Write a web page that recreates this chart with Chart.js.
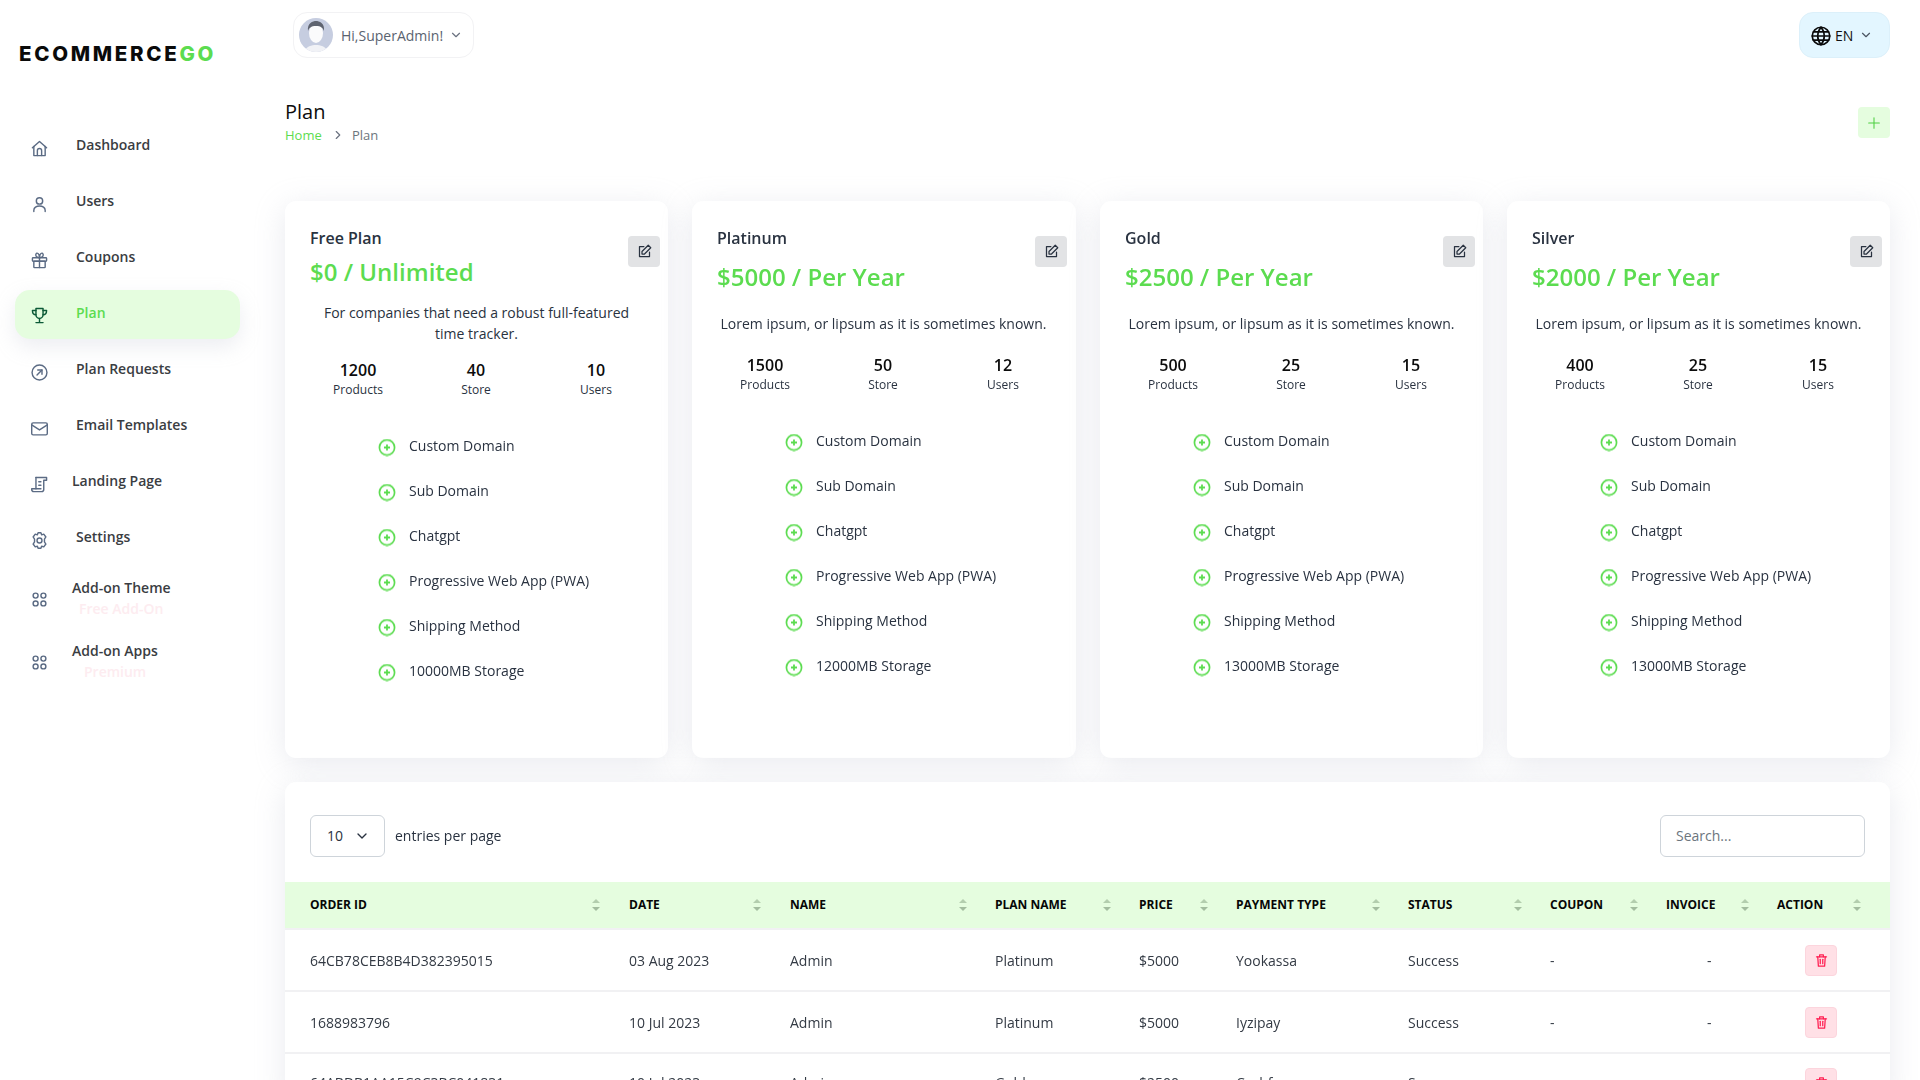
<!DOCTYPE html>
<html>
<head>
<meta charset="utf-8">
<title>Plan</title>
<script src="https://cdn.jsdelivr.net/npm/chart.js@4"></script>
<style>
  * { box-sizing: border-box; }
  html, body { margin: 0; width: 1920px; height: 1080px; overflow: hidden; background: #fff; }
  body { font-family: "Open Sans", sans-serif; font-size: 14px; color: #293240; position: relative; }
  .abs, .abs * { white-space: nowrap; }
  .abs { position: absolute; }
  .mid { transform: translateY(-50%); line-height: 1; }
  .ctr { transform: translate(-50%,-50%); line-height: 1; text-align: center; }
  .nav { font-weight: 600; color: #3a3d42; font-size: 14px; }
  .card { position: absolute; background: #fff; border-radius: 11px; box-shadow: 0 6px 30px rgba(182,186,203,.3); }
  .plan { top: 201px; height: 557px; }
  .btn { position: absolute; display: flex; align-items: center; justify-content: center; border-radius: 4px; }
  canvas { position: absolute; }
  .th { font-size: 12px; font-weight: 700; color: #060606; }
  .td { font-size: 14px; color: #333a44; }
  .rule { position: absolute; left: 285px; width: 1605px; height: 2px; background: #f1f1f3; }
  .box { position: absolute; border: 1px solid #ced4da; border-radius: 6px; background: #fff; }
</style>
</head>
<body>
<script>
const navLabels = ["Dashboard", "Users", "Coupons", "Plan", "Plan Requests", "Email Templates", "Landing Page", "Settings", "Add-on Theme", "Add-on Apps"];
const planNames = ["Free Plan", "Platinum", "Gold", "Silver"];
const planPrices = ["$0 / Unlimited", "$5000 / Per Year", "$2500 / Per Year", "$2000 / Per Year"];
const planProducts = [1200, 1500, 500, 400];
const planStores = [40, 50, 25, 25];
const planUsers = [10, 12, 15, 15];
const planStorage = ["10000MB Storage", "12000MB Storage", "13000MB Storage", "13000MB Storage"];
const baseFeatures = ["Custom Domain", "Sub Domain", "Chatgpt", "Progressive Web App (PWA)", "Shipping Method"];
const featureIncluded = [1, 1, 1, 1, 1, 1];
const tableHeads = ["ORDER ID", "DATE", "NAME", "PLAN NAME", "PRICE", "PAYMENT TYPE", "STATUS", "COUPON", "INVOICE", "ACTION"];
const tableRows = [
  ["64CB78CEB8B4D382395015", "03 Aug 2023", "Admin", "Platinum", "$5000", "Yookassa", "Success", "-", "-"],
  ["1688983796", "10 Jul 2023", "Admin", "Platinum", "$5000", "Iyzipay", "Success", "-", "-"],
  ["64ABDB1AA15C9C3BC041831", "10 Jul 2023", "Admin", "Gold", "$2500", "Cashfree", "Success", "-", "-"]
];

const GREEN = "#5cdc50";
const colX = [310, 629, 790, 995, 1139, 1236, 1408, 1550, 1666, 1777];
const arrowX = [596, 757, 963, 1107, 1204, 1376, 1518, 1634, 1745, 1857];
const navX = [76, 76, 76, 76, 76, 76, 72, 76, 72, 72];
const navY = [145, 201, 257, 313, 369, 425, 481, 537, 588, 651];
const iconY = [148, 204, 260, 315, 372, 428, 484, 540, 599, 662];
const cardX = [285, 692, 1100, 1507];
const cardW = [383, 384, 383, 383];
const rowY = [961, 1023, 1083];
const trashY = [945, 1007, 1068];

function svg(size, stroke, body) {
  return `<svg width="${size}" height="${size}" viewBox="0 0 24 24" fill="none" stroke="${stroke}" stroke-width="2" stroke-linecap="round" stroke-linejoin="round">${body}</svg>`;
}
const chevron = (c, s = 14) => svg(s, c, '<path d="M6 9l6 6 6-6"/>');
const gridIcon = '<circle cx="6.5" cy="6.5" r="3.5"/><circle cx="17.5" cy="6.5" r="3.5"/><circle cx="6.5" cy="17.5" r="3.5"/><circle cx="17.5" cy="17.5" r="3.5"/>';
const navIcons = [
  '<path d="M2 11l10-9 10 9"/><path d="M4 9v13h16V9"/><path d="M9 22v-7a3 3 0 0 1 6 0v7"/>',
  '<circle cx="12" cy="7" r="4.5"/><path d="M4 22v-2a8 6 0 0 1 16 0v2"/>',
  '<rect x="2" y="8" width="20" height="5" rx="1"/><rect x="4" y="13" width="16" height="9" rx="1"/><path d="M12 8v14"/><path d="M12 8C9 8 6 6 7 3s5-1 5 5c0-6 4-8 5-5s-2 5-5 5z"/>',
  '<path d="M7 2h10v9a5 5 0 0 1-10 0z"/><path d="M7 5H2c0 4 2 6 5 6"/><path d="M17 5h5c0 4-2 6-5 6"/><path d="M12 16v5"/><path d="M7 22h10"/>',
  '<circle cx="12" cy="12" r="10.5"/><path d="M8.5 15.5l7-7"/><path d="M9.5 8.5h6v6"/>',
  '<rect x="1" y="4" width="22" height="17" rx="2"/><path d="M1 7l11 7 11-7"/>',
  '<path d="M7 2h15v4h-4v13a3 3 0 0 1-3 3H4a3 3 0 0 1-3-3v-1h13"/><path d="M7 2v16"/><path d="M11 8h3"/><path d="M11 13h3"/>',
  '<circle cx="12" cy="12" r="3.5"/><path d="M10 1h4l1 3 3-1 3 4-2 3v4l2 3-3 4-3-1-1 3h-4l-1-3-3 1-3-4 2-3v-4L3 7l3-4 3 1z"/>',
  gridIcon, gridIcon
];

let html = "";
const put = (x, y, cls, style, txt) => {
  html += `<div class="abs ${cls}" style="left:${x}px;top:${y}px;${style}">${txt}</div>`;
};

// sidebar
html += `<div class="abs" style="left:19px;top:41px;font:800 20.5px Inter,sans-serif;letter-spacing:2.7px;color:#0a0a0a">ECOMMERCE<span style="color:${GREEN}">GO</span></div>`;
html += `<div class="abs" style="left:15px;top:290px;width:225px;height:49px;border-radius:15px;background:#e5fddf;box-shadow:0 8px 20px rgba(182,186,203,.25)"></div>`;
navLabels.forEach((label, i) => {
  const active = label === "Plan";
  put(navX[i], navY[i], "mid nav", active ? `color:${GREEN}` : "", label);
  put(31, iconY[i] - 8, "", "line-height:0", svg(17, active ? "#0c5a37" : "#5b6b84", navIcons[i]));
});
put(79, 609, "mid", "font-weight:600;color:#fdecf0", "Free Add-On");
put(84, 672, "mid", "font-weight:600;color:#fdecf0", "Premium");

// header
html += `<div class="abs" style="left:293px;top:12px;width:181px;height:46px;border:1px solid #f2f2f4;border-radius:14px"></div>`;
html += `<svg class="abs" style="left:299px;top:18px" width="34" height="34" viewBox="0 0 34 34"><clipPath id="av"><circle cx="17" cy="17" r="17"/></clipPath><g clip-path="url(#av)"><rect width="34" height="34" fill="#c6cde0"/><path d="M5 34c2-6 8-7 12-7s10 1 12 7z" fill="#f1f2f6"/><ellipse cx="17" cy="15" rx="7" ry="10" fill="#fbfbfc"/><path d="M9 13c-1-8 5-10 8-10s9 2 8 10c-1-3-3-5-8-5s-7 2-8 5z" fill="#5f6470"/></g></svg>`;
put(341, 36, "mid", "font-size:14px;color:#5a6370", "Hi,SuperAdmin!");
put(449, 28, "", "line-height:0", chevron("#6b7280"));
html += `<div class="abs" style="left:1799px;top:12px;width:91px;height:46px;background:#e3f6ff;border:1px solid #dcf0fa;border-radius:14px"></div>`;
put(1811, 26, "", "line-height:0", svg(20, "#0a0a0a", '<circle cx="12" cy="12" r="10.5"/><path d="M1.5 12h21"/><path d="M12 1.5a16 16 0 0 1 0 21a16 16 0 0 1 0-21"/><path d="M3 7h18"/><path d="M3 17h18"/>'));
put(1835, 36, "mid", "font-size:14px;font-weight:500;color:#111", "EN");
put(1859, 28, "", "line-height:0", chevron("#4b5563"));

// page title
put(285, 112, "mid", "font-size:20px;font-weight:500;color:#0c0c0c", "Plan");
put(285, 135, "mid", `font-size:13px;color:${GREEN}`, "Home");
put(331, 128, "", "line-height:0", chevron("#6b7280").replace('<svg ', '<svg style="transform:rotate(-90deg)" '));
put(352, 135, "mid", "font-size:13px;color:#6c757d", "Plan");
html += `<div class="btn" style="left:1858px;top:107px;width:32px;height:31px;background:#e5fddf">${svg(16, "#4fd043", '<path d="M12 4v16"/><path d="M4 12h16"/>').replace('stroke-width="2"', 'stroke-width="1.6"')}</div>`;

// plan cards
const featureCanvases = [];
planNames.forEach((name, i) => {
  const x = cardX[i];
  const free = i === 0;
  const desc = free ? "For companies that need a robust full-featured<br>time tracker." : "Lorem ipsum, or lipsum as it is sometimes known.";
  const statY = free ? 370 : 365;
  html += `<div class="card plan" style="left:${x}px;width:${cardW[i]}px"></div>`;
  put(x + 25, 238, "mid", "font-size:16px;font-weight:600;color:#293240", name);
  put(x + 25, free ? 272 : 277, "mid", `font-size:24px;font-weight:600;color:${GREEN}`, planPrices[i]);
  html += `<div class="btn" style="left:${x + 343}px;top:236px;width:32px;height:31px;background:#e2e3e5">${svg(15, "#293240", '<path d="M11 4H4v16h16v-7"/><path d="M18 2l4 4-10 10H8v-4z"/>')}</div>`;
  html += `<div class="abs" style="left:${x}px;width:383px;top:${free ? 302 : 313}px;text-align:center;font-size:14px;line-height:21px;color:#293240">${desc}</div>`;
  [[planProducts[i], "Products", 73], [planStores[i], "Store", 191], [planUsers[i], "Users", 311]].forEach(([val, lab, dx]) => {
    put(x + dx, statY, "ctr", "font-size:16px;font-weight:600;color:#0c0c0c", val);
    put(x + dx, statY + 20, "ctr", "font-size:12px;color:#293240", lab);
  });
  html += `<canvas id="features${i}" width="294" height="270" style="left:${x + 85}px;top:${free ? 425 : 420}px;width:294px;height:270px"></canvas>`;
  featureCanvases.push(`features${i}`);
});

// orders table
html += `<div class="card" style="left:285px;top:782px;width:1605px;height:320px"></div>`;
html += `<div class="box" style="left:310px;top:815px;width:75px;height:42px"></div>`;
put(327, 836, "mid", "font-size:14px;color:#293240", "10");
put(354, 828, "", "line-height:0", chevron("#293240", 16));
put(395, 836, "mid", "font-size:14px;color:#293240", "entries per page");
html += `<div class="box" style="left:1660px;top:815px;width:205px;height:42px"></div>`;
put(1676, 836, "mid", "font-size:14px;color:#6c757d", "Search...");
html += `<div class="abs" style="left:285px;top:882px;width:1605px;height:46px;background:#e5fddf"></div>`;
html += `<div class="rule" style="top:928px"></div><div class="rule" style="top:990px"></div><div class="rule" style="top:1052px"></div>`;
tableHeads.forEach((head, c) => {
  put(colX[c], 905, "mid th", "", head);
  html += `<svg class="abs" style="left:${arrowX[c] - 4}px;top:899px" width="8" height="12" viewBox="0 0 8 12"><path d="M4 0l4 4H0z" fill="#b3ceae"/><path d="M4 12l4-4H0z" fill="#a3bd9f"/></svg>`;
});
tableRows.forEach((row, r) => {
  row.forEach((cell, c) => {
    const left = c === 8 ? 1707 : colX[c];
    put(left, rowY[r], "mid td", "", cell);
  });
  html += `<div class="btn" style="left:1805px;top:${trashY[r]}px;width:32px;height:31px;background:#ffe0e6;border:1px solid #fcd5dd">${svg(15, "#ff1f52", '<path d="M4 6h16"/><path d="M9 6V3h6v3"/><path d="M6 6l1 15h10l1-15"/><path d="M10 10v7"/><path d="M14 10v7"/>')}</div>`;
});

document.body.insertAdjacentHTML("beforeend", html);

// green ring-and-plus marker for the feature list
function plusMarker() {
  const c = document.createElement("canvas");
  c.width = 18; c.height = 18;
  const g = c.getContext("2d");
  g.strokeStyle = GREEN;
  g.lineWidth = 1.7;
  g.beginPath(); g.arc(9, 9, 7.6, 0, Math.PI * 2); g.stroke();
  g.lineWidth = 1.8;
  g.beginPath(); g.moveTo(9, 6); g.lineTo(9, 12); g.moveTo(6, 9); g.lineTo(12, 9); g.stroke();
  return c;
}
const marker = plusMarker();

featureCanvases.forEach((id, i) => {
  const labels = baseFeatures.concat(planStorage[i]);
  new Chart(document.getElementById(id), {
    type: "scatter",
    data: {
      labels: labels,
      datasets: [{
        data: labels.map((label, k) => ({ x: featureIncluded[k], y: label })),
        pointStyle: marker,
        pointRadius: 9
      }]
    },
    options: {
      responsive: false,
      animation: false,
      layout: { padding: 0, autoPadding: false },
      plugins: { legend: { display: false }, tooltip: { enabled: false } },
      scales: {
        x: { display: false, min: 0, max: 2 },
        y: {
          type: "category",
          position: "right",
          offset: true,
          grid: { display: false, drawTicks: false },
          border: { display: false },
          // fixed label column, and no extra room above and below the first and last label
          afterFit: (axis) => { axis.width = 260; axis.paddingTop = 0; axis.paddingBottom = 0; },
          ticks: {
            autoSkip: false,
            padding: 5,
            color: "#293240",
            font: { family: "'Open Sans'", size: 14 }
          }
        }
      }
    }
  });
});
</script>
</body>
</html>
